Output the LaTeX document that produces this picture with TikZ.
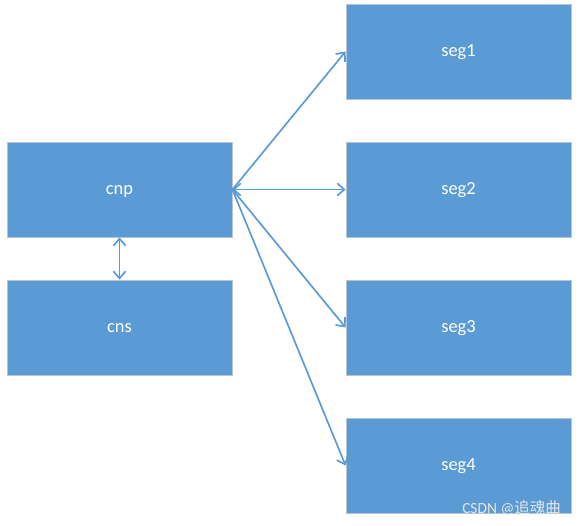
\documentclass[tikz,border=0pt]{standalone}
\usepackage{fontspec}
\setmainfont{Carlito}
\newfontfamily\cjk{Noto Sans CJK SC}
\usetikzlibrary{arrows.meta}
\definecolor{boxblue}{HTML}{5B9BD5}
\definecolor{boxedge}{HTML}{B8C4CF}

\begin{document}
\begin{tikzpicture}[x=0.02cm, y=-0.02cm]
	\tikzset{blk/.style={fill=boxblue, draw=boxedge, line width=0.5pt, minimum width=4.5cm, minimum height=1.9cm, text=white, text height=1.1ex, text depth=0pt, font=\fontsize{10.5}{12}\selectfont},
		link/.style={draw=boxblue, line width=0.95pt, -{Straight Barb[length=4pt, width=7pt]}}}
	\useasboundingbox (0,0) rectangle (579,525);
	\node[blk] (cnp) at (119.5,189.5) {cnp};
	\node[blk] (cns) at (119.5,327.5) {cns};
	\node[blk] (seg1) at (458.5,51.5) {seg1};
	\node[blk] (seg2) at (458.5,189.5) {seg2};
	\node[blk] (seg3) at (458.5,327.5) {seg3};
	\node[blk] (seg4) at (458.5,465.5) {seg4};
	\draw[link] (cnp.east) -- (seg1.west);
	\draw[link, {Straight Barb[length=4pt, width=7pt]}-{Straight Barb[length=4pt, width=7pt]}] (cnp.east) -- (seg2.west);
	\draw[link] (cnp.east) -- (seg3.west);
	\draw[link] (cnp.east) -- (seg4.west);
	\draw[link, {Straight Barb[length=4pt, width=7pt]}-{Straight Barb[length=4pt, width=7pt]}] (cnp.south) -- (cns.north);
	\node[anchor=east, text=black!10, font=\fontsize{8.8}{10}\selectfont] (mark) at (567,508) {CSDN @{\cjk 追魂曲}};
\end{tikzpicture}
\end{document}
